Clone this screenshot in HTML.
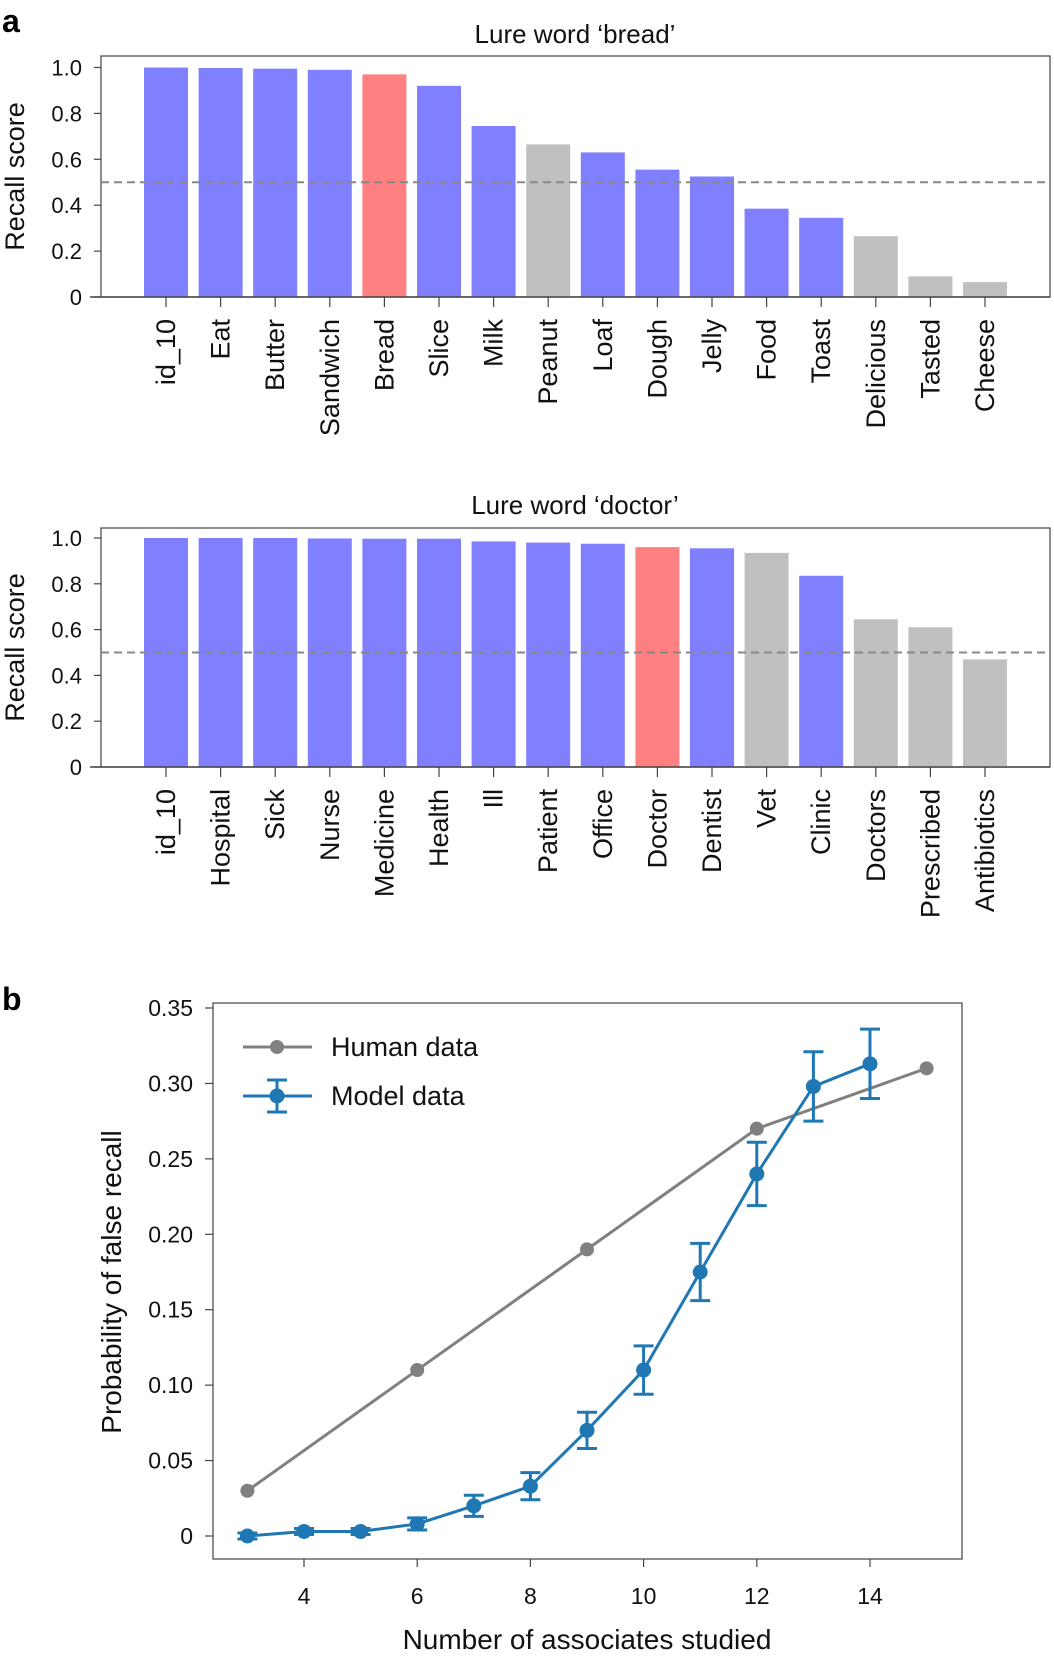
<!DOCTYPE html>
<html><head><meta charset="utf-8"><style>
html,body{margin:0;padding:0;background:#fff;}
svg{display:block;font-family:"Liberation Sans",sans-serif;}
</style></head><body>
<svg id="fig" width="1054" height="1660" viewBox="0 0 1054 1660" xmlns="http://www.w3.org/2000/svg"></svg>
<script>
const breadCats=["id_10","Eat","Butter","Sandwich","Bread","Slice","Milk","Peanut","Loaf","Dough","Jelly","Food","Toast","Delicious","Tasted","Cheese"];
const breadVals=[1.0,0.998,0.995,0.99,0.97,0.92,0.745,0.665,0.63,0.555,0.525,0.385,0.345,0.265,0.09,0.065];
const breadKinds=["s","s","s","s","l","s","s","o","s","s","s","s","s","o","o","o"];
const doctorCats=["id_10","Hospital","Sick","Nurse","Medicine","Health","Ill","Patient","Office","Doctor","Dentist","Vet","Clinic","Doctors","Prescribed","Antibiotics"];
const doctorVals=[1.0,1.0,1.0,0.998,0.997,0.997,0.985,0.98,0.975,0.96,0.955,0.935,0.835,0.645,0.61,0.47];
const doctorKinds=["s","s","s","s","s","s","s","s","s","l","s","o","s","o","o","o"];
const barTicks=[0,0.2,0.4,0.6,0.8,1.0];
const barTickLabels=["0","0.2","0.4","0.6","0.8","1.0"];
const humanX=[3,6,9,12,15];
const humanY=[0.03,0.11,0.19,0.27,0.31];
const modelX=[3,4,5,6,7,8,9,10,11,12,13,14];
const modelY=[0,0.003,0.003,0.008,0.02,0.033,0.07,0.11,0.175,0.24,0.298,0.313];
const modelErr=[0.002,0.002,0.002,0.004,0.007,0.009,0.012,0.016,0.019,0.021,0.023,0.023];
const lineXTicks=[4,6,8,10,12,14];
const lineYTicks=[0,0.05,0.10,0.15,0.20,0.25,0.30,0.35];
const lineYTickLabels=["0","0.05","0.10","0.15","0.20","0.25","0.30","0.35"];

const NS="http://www.w3.org/2000/svg";
const svg=document.getElementById('fig');
function el(tag,attrs,parent,text){const e=document.createElementNS(NS,tag);for(const k in attrs)e.setAttribute(k,attrs[k]);if(text!==undefined)e.textContent=text;(parent||svg).appendChild(e);return e;}
const colors={s:"#8080ff",l:"#ff8080",o:"#c0c0c0"};

let t=el('text',{x:2,y:32,'font-size':32,'font-weight':'bold'},svg,'a');


t=el('text',{x:2,y:1010,'font-size':32,'font-weight':'bold'},svg,'b');



function barChart(name,title,cats,vals,kinds,top,y0,y1,titleY){
  const g=el('g',{});
  
  
  const L=101,R=1050;
  const ys=v=>y0-(y0-y1)*v;
  const xs=i=>166+i*54.6;
  let tt=el('text',{x:575,y:titleY,'font-size':26,'text-anchor':'middle',fill:'#111'},g,title);
  
  
  el('rect',{x:L,y:top,width:R-L,height:y0-top,fill:'none',stroke:'#444','stroke-width':1.2},g);
  cats.forEach((c,i)=>{
    const r=el('rect',{x:xs(i)-22,y:ys(vals[i]),width:44,height:y0-ys(vals[i]),fill:colors[kinds[i]]},g);
    
    
    el('line',{x1:xs(i),x2:xs(i),y1:y0,y2:y0+10,stroke:'#444','stroke-width':1.2},g);
    const lb=el('text',{transform:`translate(${xs(i)+9},${y0+22}) rotate(-90)`,'font-size':27,'text-anchor':'end',fill:'#111'},g,c);
    
    
  });
  el('line',{x1:90,x2:R,y1:y0,y2:y0,stroke:'#444','stroke-width':1.4},g);
  const dl=el('line',{x1:L,x2:R,y1:ys(0.5),y2:ys(0.5),stroke:'#888','stroke-width':2,'stroke-dasharray':'8,5'},g);
  
  
  barTicks.forEach((v,i)=>{
    el('line',{x1:L-7,x2:L,y1:ys(v),y2:ys(v),stroke:'#444','stroke-width':1.2},g);
    const tl=el('text',{x:82,y:ys(v)+8,'font-size':22,'text-anchor':'end',fill:'#111'},g,barTickLabels[i]);
    
    
  });
  const yl=el('text',{transform:`translate(24,${(top+y0)/2}) rotate(-90)`,'font-size':27,'text-anchor':'middle',fill:'#111'},g,'Recall score');
  
  
}
barChart('bread-chart','Lure word \u2018bread\u2019',breadCats,breadVals,breadKinds,56,297,67.5,43);
barChart('doctor-chart','Lure word \u2018doctor\u2019',doctorCats,doctorVals,doctorKinds,528,767,538,514);

(function(){
  const g=el('g',{});
  
  
  const L=213,R=962,T=1003,B=1559;
  const xs=v=>304+(v-4)*56.6;
  const ys=v=>1536-(1536-1008)*v/0.35;
  el('rect',{x:L,y:T,width:R-L,height:B-T,fill:'none',stroke:'#444','stroke-width':1.2},g);
  lineXTicks.forEach(v=>{
    el('line',{x1:xs(v),x2:xs(v),y1:B,y2:B+8,stroke:'#444','stroke-width':1.2},g);
    const tl=el('text',{x:xs(v),y:1604,'font-size':23,'text-anchor':'middle',fill:'#111'},g,String(v));
    
    
  });
  lineYTicks.forEach((v,i)=>{
    el('line',{x1:L-8,x2:L,y1:ys(v),y2:ys(v),stroke:'#444','stroke-width':1.2},g);
    const tl=el('text',{x:193,y:ys(v)+8,'font-size':23,'text-anchor':'end',fill:'#111'},g,lineYTickLabels[i]);
    
    
  });
  let xl=el('text',{x:587,y:1649,'font-size':28,'text-anchor':'middle',fill:'#111'},g,'Number of associates studied');
  
  
  let yl=el('text',{transform:`translate(121,1282) rotate(-90)`,'font-size':28,'text-anchor':'middle',fill:'#111'},g,'Probability of false recall');
  
  
  const hp=el('polyline',{points:humanX.map((x,i)=>xs(x)+','+ys(humanY[i])).join(' '),fill:'none',stroke:'#808080','stroke-width':3},g);
  
  
  humanX.forEach((x,i)=>{
    const c=el('circle',{cx:xs(x),cy:ys(humanY[i]),r:7,fill:'#808080'},g);
    
    
  });
  const mp=el('polyline',{points:modelX.map((x,i)=>xs(x)+','+ys(modelY[i])).join(' '),fill:'none',stroke:'#1f77b4','stroke-width':3},g);
  
  
  modelX.forEach((x,i)=>{
    const cx=xs(x),a=ys(modelY[i]-modelErr[i]),b=ys(modelY[i]+modelErr[i]);
    el('path',{d:`M${cx},${a}V${b}M${cx-10},${a}H${cx+10}M${cx-10},${b}H${cx+10}`,stroke:'#1f77b4','stroke-width':3,fill:'none'},g);
    const c=el('circle',{cx:cx,cy:ys(modelY[i]),r:7.5,fill:'#1f77b4'},g);
    
    
  });
  const lg=el('g',{},g);
  
  
  el('line',{x1:243,x2:312,y1:1047,y2:1047,stroke:'#808080','stroke-width':3},lg);
  el('circle',{cx:277,cy:1047,r:7,fill:'#808080'},lg);
  let t1=el('text',{x:331,y:1056,'font-size':27,fill:'#111'},lg,'Human data');
  
  
  el('line',{x1:243,x2:312,y1:1096,y2:1096,stroke:'#1f77b4','stroke-width':3},lg);
  el('path',{d:'M277,1080V1112M267,1080H287M267,1112H287',stroke:'#1f77b4','stroke-width':3,fill:'none'},lg);
  el('circle',{cx:277,cy:1096,r:7.5,fill:'#1f77b4'},lg);
  let t2=el('text',{x:331,y:1105,'font-size':27,fill:'#111'},lg,'Model data');
  
  
})();
</script>
</body></html>
